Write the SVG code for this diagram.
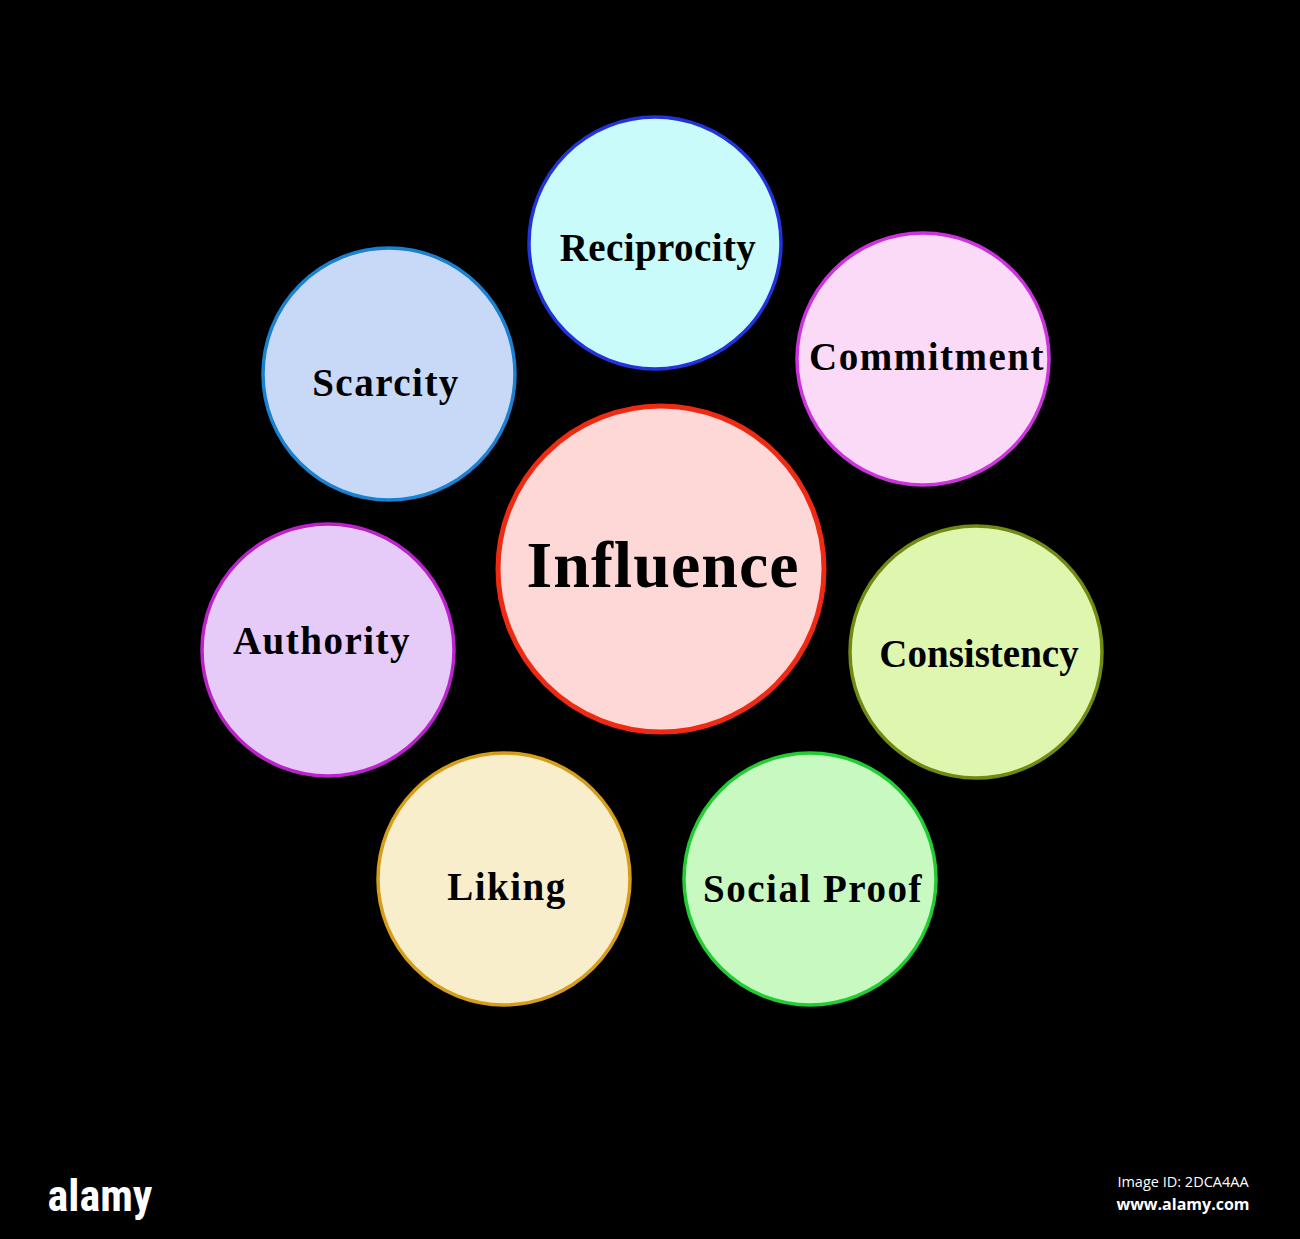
<svg xmlns="http://www.w3.org/2000/svg" width="1300" height="1239" viewBox="0 0 1300 1239">
<style>
.node circle{stroke-width:3.5}
.lbl{font-family:"Liberation Serif","Times New Roman",serif;font-weight:bold;font-size:39px;fill:#000;text-anchor:middle;letter-spacing:1.5px}
.big{font-size:66px;letter-spacing:1px}
.wm{font-family:"Open Sans","DejaVu Sans",sans-serif;fill:#fff}
</style>
<rect width="1300" height="1239" fill="#000"/>
<g id="connectors"></g>
<g id="node-reciprocity" class="node"><circle cx="655" cy="243" r="126" fill="#c8fbfa" stroke="#2233dd"/><text class="lbl" x="658" y="261" style="letter-spacing:0.4px">Reciprocity</text></g>
<g id="node-commitment" class="node"><circle cx="923" cy="359" r="126" fill="#fadaf7" stroke="#cc33dd"/><text class="lbl" x="927" y="370">Commitment</text></g>
<g id="node-scarcity" class="node"><circle cx="389" cy="374" r="126" fill="#c7d9f6" stroke="#1a80d0"/><text class="lbl" x="386" y="396">Scarcity</text></g>
<g id="node-influence" class="node"><circle cx="661" cy="569" r="163" fill="#fed7d7" stroke="#ee2a12" style="stroke-width:5"/><text class="lbl big" x="663" y="587">Influence</text></g>
<g id="node-authority" class="node"><circle cx="328" cy="650" r="126" fill="#e6caf8" stroke="#bb22cc"/><text class="lbl" x="322" y="654">Authority</text></g>
<g id="node-consistency" class="node"><circle cx="976" cy="652" r="126" fill="#dff6af" stroke="#708a12"/><text class="lbl" x="979" y="667" style="letter-spacing:0">Consistency</text></g>
<g id="node-liking" class="node"><circle cx="504" cy="879" r="126" fill="#f9eecb" stroke="#d49d1a"/><text class="lbl" x="507" y="900">Liking</text></g>
<g id="node-socialproof" class="node"><circle cx="810" cy="879" r="126" fill="#c7f9c1" stroke="#22cc33"/><text class="lbl" x="813" y="902">Social Proof</text></g>
<text class="wm" x="100" y="1211" font-size="44" font-weight="bold" text-anchor="middle" style="font-family:'Liberation Sans Narrow','Roboto Condensed','Liberation Sans',sans-serif">alamy</text>
<text class="wm" x="1183" y="1187" font-size="14.5" text-anchor="middle">Image ID: 2DCA4AA</text>
<text class="wm" x="1183" y="1210" font-size="16" font-weight="bold" text-anchor="middle">www.alamy.com</text>
</svg>
